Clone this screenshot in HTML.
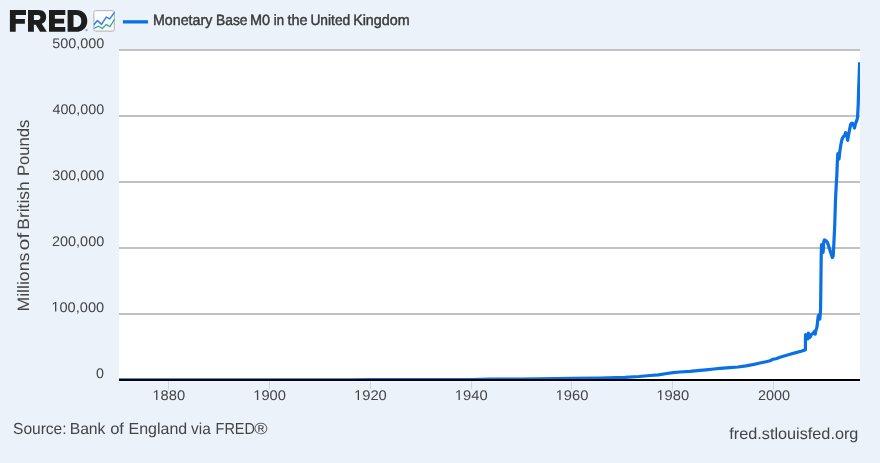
<!DOCTYPE html>
<html><head><meta charset="utf-8"><title>FRED</title>
<style>
html,body{margin:0;padding:0;background:#ebf2fa;}
body{width:880px;height:463px;overflow:hidden;font-family:"Liberation Sans",sans-serif;}
svg{display:block}
text{font-family:"Liberation Sans",sans-serif;text-rendering:geometricPrecision;}
</style></head><body>
<svg width="880" height="463" viewBox="0 0 880 463">
<rect x="0" y="0" width="880" height="463" fill="#ebf2fa"/>
<defs><clipPath id="pc"><rect x="119" y="40" width="741" height="341"/></clipPath></defs>
<!-- plot bg -->
<rect x="119" y="49" width="741" height="332.4" fill="#ffffff"/>
<!-- gridlines -->
<g stroke="#c1c1c1" stroke-width="2">
<line x1="119" x2="860" y1="50" y2="50"/>
<line x1="119" x2="860" y1="116" y2="116"/>
<line x1="119" x2="860" y1="182" y2="182"/>
<line x1="119" x2="860" y1="248" y2="248"/>
<line x1="119" x2="860" y1="314" y2="314"/>
</g>
<!-- ticks -->
<g stroke="#ccd6eb" stroke-width="1">
<line x1="168.5" x2="168.5" y1="381" y2="389.6"/>
<line x1="269.5" x2="269.5" y1="381" y2="389.6"/>
<line x1="370.5" x2="370.5" y1="381" y2="389.6"/>
<line x1="471.5" x2="471.5" y1="381" y2="389.6"/>
<line x1="571.5" x2="571.5" y1="381" y2="389.6"/>
<line x1="672.5" x2="672.5" y1="381" y2="389.6"/>
<line x1="773.5" x2="773.5" y1="381" y2="389.6"/>
</g>
<!-- series -->
<path d="M118.0,379.9 L270.0,379.9 L340.0,379.9 L350.0,379.8 L371.0,379.6 L400.0,379.7 L440.0,379.6 L471.0,379.5 L490.0,379.1 L500.0,379.0 L520.0,379.0 L540.0,378.8 L572.0,378.4 L600.0,378.0 L625.0,377.4 L639.0,376.5 L650.0,375.5 L658.3,374.8 L667.0,373.5 L673.0,372.6 L680.0,372.0 L690.0,371.4 L700.0,370.3 L706.0,369.8 L714.0,369.0 L720.0,368.3 L730.0,367.6 L738.0,367.0 L746.0,365.9 L754.0,364.4 L760.0,363.0 L766.0,361.7 L770.0,360.7 L773.0,359.3 L776.0,358.7 L780.0,357.2 L785.0,355.8 L790.0,354.3 L796.0,352.6 L801.2,351.3 L804.8,349.9 L805.4,349.7 L805.5,334.7 L806.9,335.4 L807.6,339.0 L808.4,333.0 L809.3,337.8 L810.5,336.5 L811.5,334.4 L813.1,333.4 L814.6,331.3 L815.2,334.2 L815.9,330.3 L816.7,328.2 L817.2,325.6 L817.7,320.4 L818.3,315.8 L819.3,314.7 L819.8,319.2 L820.3,314.2 L820.6,308.0 L821.0,274.0 L821.2,257.1 L821.5,244.6 L822.5,245.2 L823.1,252.4 L823.8,241.5 L824.4,240.0 L825.6,240.5 L826.6,241.5 L827.5,242.6 L829.5,248.8 L831.1,254.0 L832.4,257.6 L833.2,256.0 L833.7,246.7 L834.2,236.4 L834.7,226.0 L835.5,200.0 L836.2,186.0 L836.8,175.9 L837.3,162.6 L837.8,153.5 L838.4,153.5 L839.0,159.2 L839.9,151.0 L840.9,144.5 L842.0,139.3 L843.3,136.7 L844.8,135.4 L845.5,132.6 L846.8,134.8 L847.7,140.3 L848.7,134.1 L849.7,128.9 L850.7,124.4 L851.9,123.1 L853.2,123.8 L854.5,128.0 L855.4,123.8 L856.5,121.2 L857.5,117.9 L858.2,105.0 L858.6,90.0 L859.2,75.0 L859.6,62.3" fill="none" stroke="#0a70e4" stroke-width="3.2" stroke-linejoin="round" stroke-linecap="butt" clip-path="url(#pc)"/>
<!-- axis -->
<line x1="119" x2="860" y1="380" y2="380" stroke="#000" stroke-width="2"/>
<g opacity="0.999">
<!-- texts -->
<g transform="translate(152.94,24.5) scale(0.9623,1)"><text x="0" y="0" font-size="14.8" fill="#3a3a3a" stroke="#3a3a3a" stroke-width="0.45">Monetary</text></g>
<g transform="translate(216.07,24.5) scale(0.9333,1)"><text x="0" y="0" font-size="14.8" fill="#3a3a3a" stroke="#3a3a3a" stroke-width="0.45">Base</text></g>
<g transform="translate(249.92,24.5) scale(0.9778,1)"><text x="0" y="0" font-size="14.8" fill="#3a3a3a" stroke="#3a3a3a" stroke-width="0.45">M0</text></g>
<g transform="translate(273.73,24.5) scale(0.8900,1)"><text x="0" y="0" font-size="14.8" fill="#3a3a3a" stroke="#3a3a3a" stroke-width="0.45">in</text></g>
<g transform="translate(287.40,24.5) scale(0.9789,1)"><text x="0" y="0" font-size="14.8" fill="#3a3a3a" stroke="#3a3a3a" stroke-width="0.45">the</text></g>
<g transform="translate(310.39,24.5) scale(0.9313,1)"><text x="0" y="0" font-size="14.8" fill="#3a3a3a" stroke="#3a3a3a" stroke-width="0.45">United</text></g>
<g transform="translate(353.13,24.5) scale(0.9678,1)"><text x="0" y="0" font-size="14.8" fill="#3a3a3a" stroke="#3a3a3a" stroke-width="0.45">Kingdom</text></g>
<g transform="translate(13.02,433.9) scale(0.9712,1)"><text x="0" y="0" font-size="16" fill="#444">Source:</text></g>
<g transform="translate(69.65,433.9) scale(0.9822,1)"><text x="0" y="0" font-size="16" fill="#444">Bank</text></g>
<g transform="translate(110.15,433.9) scale(1.0353,1)"><text x="0" y="0" font-size="16" fill="#444">of</text></g>
<g transform="translate(128.53,433.9) scale(0.9991,1)"><text x="0" y="0" font-size="16" fill="#444">England</text></g>
<g transform="translate(191.08,433.9) scale(0.9620,1)"><text x="0" y="0" font-size="16" fill="#444">via</text></g>
<g transform="translate(215.56,433.9) scale(0.9039,1)"><text x="0" y="0" font-size="16" fill="#444">FRED</text></g>
<g transform="translate(254.32,433.9) scale(1.1289,1)"><text x="0" y="0" font-size="16" fill="#444">®</text></g>
<g transform="translate(729.25,438.6) scale(1.0153,1)"><text x="0" y="0" font-size="16" fill="#444">fred.stlouisfed.org</text></g>
<g transform="translate(152.40,399.95) scale(1.0530,1)"><path transform="scale(0.006836,-0.006836)" d="M515,0 L515,1237 L197,1010 L197,1180 L530,1409 L696,1409 L696,0 Z" fill="#444"/><text x="7.786" y="0" font-size="14" fill="#444">880</text></g>
<g transform="translate(253.20,399.95) scale(1.0530,1)"><path transform="scale(0.006836,-0.006836)" d="M515,0 L515,1237 L197,1010 L197,1180 L530,1409 L696,1409 L696,0 Z" fill="#444"/><text x="7.786" y="0" font-size="14" fill="#444">900</text></g>
<g transform="translate(354.00,399.95) scale(1.0530,1)"><path transform="scale(0.006836,-0.006836)" d="M515,0 L515,1237 L197,1010 L197,1180 L530,1409 L696,1409 L696,0 Z" fill="#444"/><text x="7.786" y="0" font-size="14" fill="#444">920</text></g>
<g transform="translate(454.80,399.95) scale(1.0530,1)"><path transform="scale(0.006836,-0.006836)" d="M515,0 L515,1237 L197,1010 L197,1180 L530,1409 L696,1409 L696,0 Z" fill="#444"/><text x="7.786" y="0" font-size="14" fill="#444">940</text></g>
<g transform="translate(555.60,399.95) scale(1.0530,1)"><path transform="scale(0.006836,-0.006836)" d="M515,0 L515,1237 L197,1010 L197,1180 L530,1409 L696,1409 L696,0 Z" fill="#444"/><text x="7.786" y="0" font-size="14" fill="#444">960</text></g>
<g transform="translate(656.40,399.95) scale(1.0530,1)"><path transform="scale(0.006836,-0.006836)" d="M515,0 L515,1237 L197,1010 L197,1180 L530,1409 L696,1409 L696,0 Z" fill="#444"/><text x="7.786" y="0" font-size="14" fill="#444">980</text></g>
<g transform="translate(757.88,399.95) scale(1.0310,1)"><text x="0" y="0" font-size="14" fill="#444">2000</text></g>
<g transform="translate(52.16,47.6) scale(1.0278,1)"><text x="0" y="0" font-size="14" fill="#444">500,000</text></g>
<g transform="translate(52.42,113.6) scale(1.0227,1)"><text x="0" y="0" font-size="14" fill="#444">400,000</text></g>
<g transform="translate(52.29,179.6) scale(1.0253,1)"><text x="0" y="0" font-size="14" fill="#444">300,000</text></g>
<g transform="translate(52.03,245.6) scale(1.0305,1)"><text x="0" y="0" font-size="14" fill="#444">200,000</text></g>
<g transform="translate(51.36,311.6) scale(1.0437,1)"><path transform="scale(0.006836,-0.006836)" d="M515,0 L515,1237 L197,1010 L197,1180 L530,1409 L696,1409 L696,0 Z" fill="#444"/><text x="7.786" y="0" font-size="14" fill="#444">00,000</text></g>
<g transform="translate(96.09,377.7) scale(1.0222,1)"><text x="0" y="0" font-size="14" fill="#444">0</text></g>
<g transform="translate(29.4,311.47) rotate(-90) scale(1.0679,1)"><text x="0" y="0" font-size="16.5" fill="#444">Millions</text></g>
<g transform="translate(29.4,250.57) rotate(-90) scale(1.3000,1)"><text x="0" y="0" font-size="16.5" fill="#444">of</text></g>
<g transform="translate(29.4,229.76) rotate(-90) scale(1.0582,1)"><text x="0" y="0" font-size="16.5" fill="#444">British</text></g>
<g transform="translate(29.4,175.99) rotate(-90) scale(1.0074,1)"><text x="0" y="0" font-size="16.5" fill="#444">Pounds</text></g>
<!-- logo -->
<g fill="#1d1d1d" fill-rule="evenodd">
<path d="M9.9,10.1 H26 V14.9 H15.7 V19 H24.9 V23.7 H15.7 V31.8 H9.9 Z"/>
<path d="M28,10.1 H38.5 C43.5,10.1 46.15,12.9 46.15,17.2 C46.15,20.6 44.4,22.8 41.7,23.8 L46.9,31.8 H40.1 L35.7,24.7 H33.9 V31.8 H28 Z M33.9,14.9 V20 H37.9 C39.6,20 40.4,18.9 40.4,17.45 C40.4,15.9 39.5,14.9 37.9,14.9 Z"/>
<path d="M49,10.1 H65.3 V14.9 H54.9 V18.8 H64.1 V23.4 H54.9 V27 H65.3 V31.8 H49 Z"/>
<path d="M67.6,10.1 H76 C83,10.1 87.3,14.6 87.3,20.9 C87.3,27.2 83,31.8 76,31.8 H67.6 Z M73.5,14.9 V27 H76 C79.3,27 81.3,24.6 81.3,20.95 C81.3,17.3 79.3,14.9 76,14.9 Z"/>
</g>
<circle cx="86.5" cy="30.2" r="1.15" fill="#a4a7ab"/>
<!-- icon -->
<defs><linearGradient id="ig" x1="0" y1="0" x2="0" y2="1"><stop offset="0" stop-color="#ffffff"/><stop offset="1" stop-color="#f8f8f8"/></linearGradient>
<clipPath id="ic"><rect x="93.4" y="10.2" width="21.4" height="21.4" rx="1.6"/></clipPath></defs>
<rect x="93.9" y="10.7" width="20.4" height="20.4" rx="1.6" fill="url(#ig)" stroke="#b2b2b2" stroke-width="1"/>
<g clip-path="url(#ic)" fill="none" stroke-linejoin="round">
<path d="M93.7,28.5 L98.7,26.2 L102.2,28.5 L106.3,24.6 L110,26.7 L114.8,18.9" stroke="#45a898" stroke-width="1.35"/>
<path d="M93.7,25.1 L97.5,20.6 L101.5,24.4 L106.3,17.1 L109.8,18.9 L114.8,11.9" stroke="#3585ec" stroke-width="1.55"/>
</g>
<!-- legend line -->
<line x1="122.9" x2="148" y1="21.85" y2="21.85" stroke="#0a70e4" stroke-width="3.3"/>
</g>
</svg>
</body></html>
